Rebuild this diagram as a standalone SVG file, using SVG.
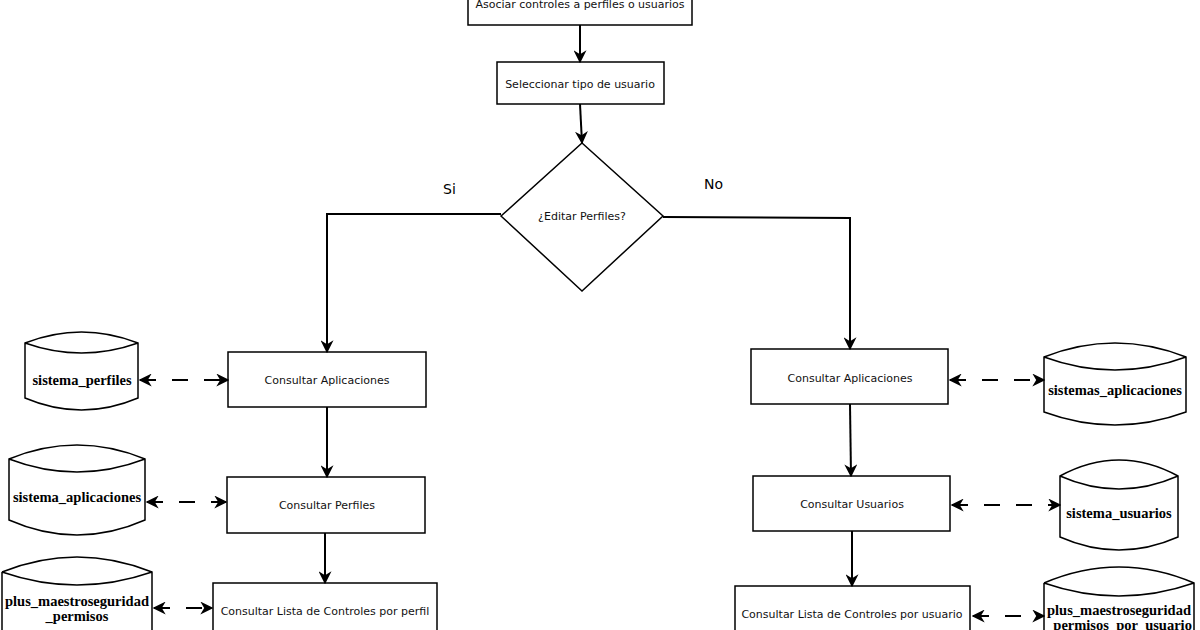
<svg xmlns="http://www.w3.org/2000/svg" width="1200" height="630" viewBox="0 0 1200 630">
<style>
.b{fill:#fff;stroke:#000;stroke-width:1.5}
.t{font-family:"DejaVu Sans",sans-serif;font-size:11px;text-anchor:middle;fill:#111}
.d{font-family:"Liberation Serif",serif;font-size:14.5px;font-weight:bold;text-anchor:middle}
.c{fill:none;stroke:#000;stroke-width:2}
.dash{stroke-dasharray:16 16}
</style>
<defs>
<marker id="h" viewBox="0 0 10 10" refX="9" refY="5" markerWidth="13" markerHeight="13" orient="auto-start-reverse" markerUnits="userSpaceOnUse"><path d="M0,0 L10,5 L0,10 L3,5 Z" fill="#000"/></marker>
</defs>
<rect width="1200" height="630" fill="#fff"/>
<g id="n1"><rect class="b" x="468" y="-10" width="224" height="35"/><text class="t" x="580" y="8">Asociar controles a perfiles o usuarios</text></g>
<g id="n2"><rect class="b" x="497" y="62" width="167" height="42"/><text class="t" x="580" y="88">Seleccionar tipo de usuario</text></g>
<g id="n3"><path class="b" d="M582,143 L663,216 L582,291 L501,216 Z"/><text class="t" x="582" y="220" font-size="10">¿Editar Perfiles?</text></g>
<text x="443" y="194" font-family="DejaVu Sans,sans-serif" font-size="14">Si</text>
<text x="704" y="189" font-family="DejaVu Sans,sans-serif" font-size="14">No</text>
<g id="l1"><rect class="b" x="228" y="352" width="198" height="55"/><text class="t" x="327" y="384">Consultar Aplicaciones</text></g>
<g id="l2"><rect class="b" x="227" y="477" width="198" height="56"/><text class="t" x="327" y="509">Consultar Perfiles</text></g>
<g id="l3"><rect class="b" x="213" y="583" width="224" height="60"/><text class="t" x="325" y="615">Consultar Lista de Controles por perfil</text></g>
<g id="r1"><rect class="b" x="751" y="349" width="197" height="55"/><text class="t" x="850" y="382">Consultar Aplicaciones</text></g>
<g id="r2"><rect class="b" x="753" y="476" width="197" height="55"/><text class="t" x="852" y="508">Consultar Usuarios</text></g>
<g id="r3"><rect class="b" x="735" y="586" width="235" height="60"/><text class="t" x="852" y="618">Consultar Lista de Controles por usuario</text></g>
<g id="c1"><path class="b" d="M25,343 Q81.5,321 138,343 L138,398 Q81.5,422 25,398 Z M25,343 Q81.5,363 138,343"/><text class="d" x="82" y="385">sistema_perfiles</text></g>
<g id="c2"><path class="b" d="M9,459 Q77,431 145,459 L145,520 Q77,550 9,520 Z M9,459 Q77,485 145,459"/><text class="d" x="77" y="502">sistema_aplicaciones</text></g>
<g id="c3"><path class="b" d="M2,572 Q77,542 152,572 L152,640 M2,572 L2,640 M2,572 Q77,598 152,572"/><text class="d" x="77" y="606">plus_maestroseguridad</text><text class="d" x="77" y="621">_permisos</text></g>
<g id="c4"><path class="b" d="M1044,357 Q1115,329 1186,357 L1186,412 Q1115,438 1044,412 Z M1044,357 Q1115,383 1186,357"/><text class="d" x="1115" y="395">sistemas_aplicaciones</text></g>
<g id="c5"><path class="b" d="M1060,476 Q1119,444 1178,476 L1178,537 Q1119,563 1060,537 Z M1060,476 Q1119,502 1178,476"/><text class="d" x="1119" y="518">sistema_usuarios</text></g>
<g id="c6"><path class="b" d="M1044,583 Q1119,551 1194,583 L1194,640 M1044,583 L1044,640 M1044,583 Q1119,609 1194,583"/><text class="d" x="1119" y="615">plus_maestroseguridad</text><text class="d" x="1119" y="630">_permisos_por_usuario</text></g>
<g id="connectors">
<path class="c" d="M580,25 L580,62" marker-end="url(#h)"/>
<path class="c" d="M580,104 L582,143" marker-end="url(#h)"/>
<path class="c" d="M501,214 L327,214 L327,352" marker-end="url(#h)"/>
<path class="c" d="M663,217 L850,218 L850,349" marker-end="url(#h)"/>
<path class="c" d="M327,407 L327,477" marker-end="url(#h)"/>
<path class="c" d="M325,533 L325,583" marker-end="url(#h)"/>
<path class="c" d="M850,404 L851,476" marker-end="url(#h)"/>
<path class="c" d="M852,531 L852,586" marker-end="url(#h)"/>
<path class="c dash" d="M140,380 L228,380" marker-start="url(#h)" marker-end="url(#h)"/>
<path class="c dash" d="M147,502 L226,502" marker-start="url(#h)" marker-end="url(#h)"/>
<path class="c dash" d="M154,608 L212,608" marker-start="url(#h)" marker-end="url(#h)"/>
<path class="c dash" d="M950,380 L1044,380" marker-start="url(#h)" marker-end="url(#h)"/>
<path class="c dash" d="M952,505 L1060,505" marker-start="url(#h)" marker-end="url(#h)"/>
<path class="c dash" d="M973,616 L1044,616" marker-start="url(#h)" marker-end="url(#h)"/>
</g>
</svg>
